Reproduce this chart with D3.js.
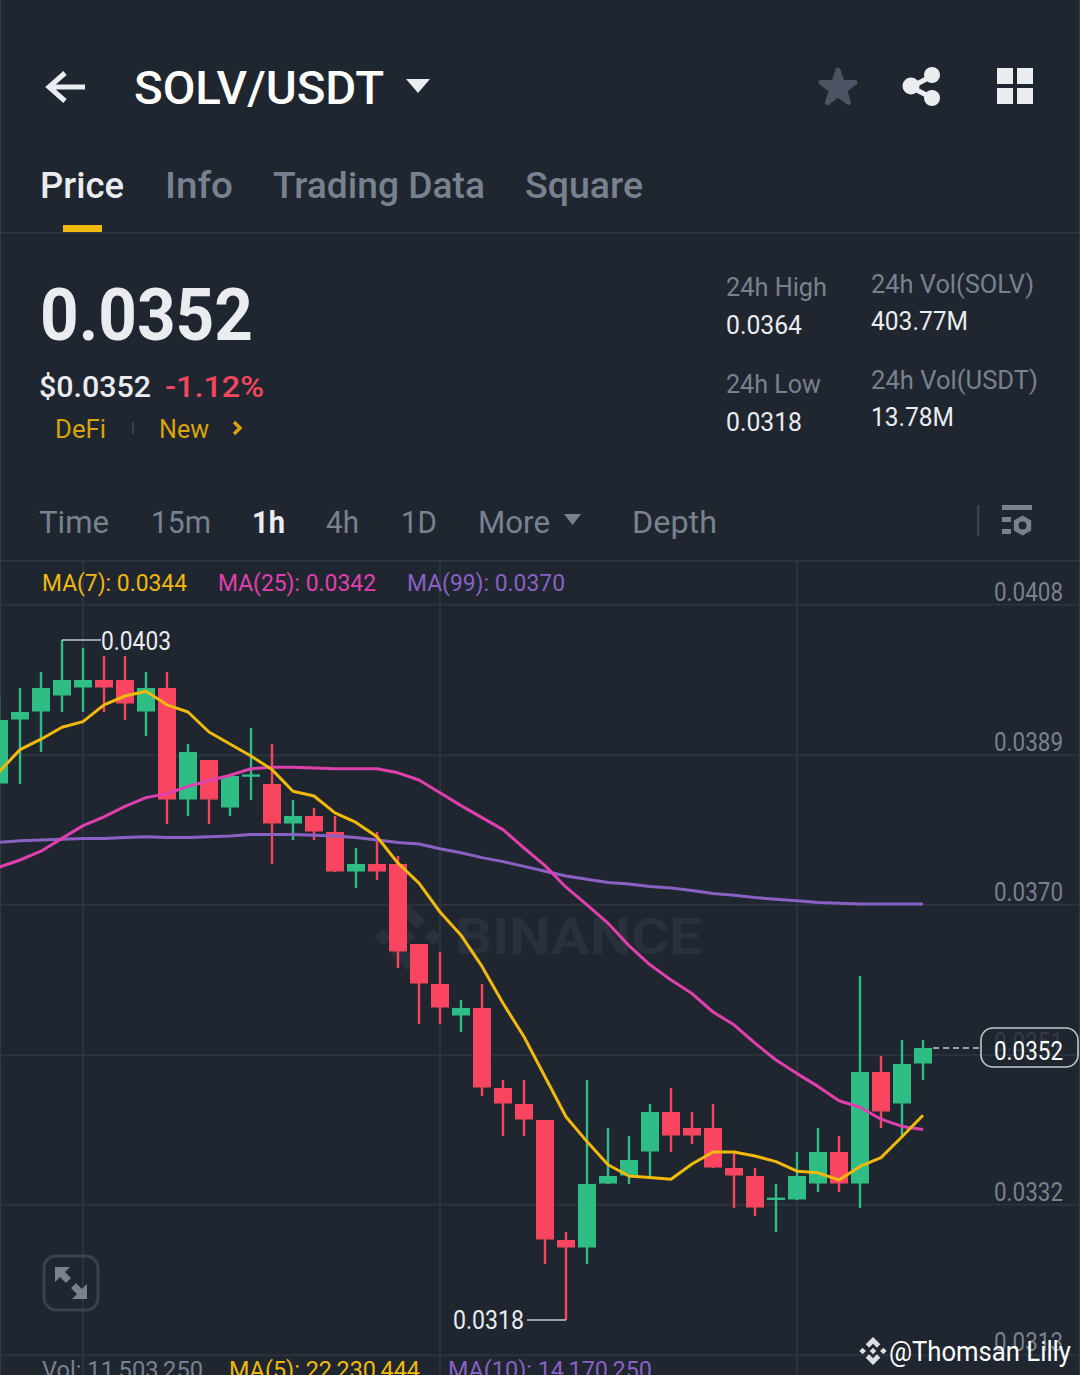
<!DOCTYPE html>
<html><head><meta charset="utf-8">
<script src="https://cdn.jsdelivr.net/npm/d3@7/dist/d3.min.js"></script>
<style>html,body{margin:0;padding:0;background:#1f2630;overflow:hidden}svg{display:block}text{font-family:Roboto,"Noto Sans",sans-serif}</style>
</head><body><svg id="c" width="1080" height="1375"></svg>
<script>
// ---- data ----
const opens  = [.0385,.0393,.0394,.0396,.0397,.0398,.0398,.0394,.0397,.0383,.0388,.0382,.03862,.0385,.0380,.0381,.0379,.0374,.0375,.0375,.0365,.0360,.0356,.0357,.0347,.0345,.0343,.0328,.0327,.0335,.0336,.0339,.0344,.0342,.0342,.0337,.0336,.03333,.0333,.0335,.0339,.0335,.0349,.0345,.0350];
const closes = [.0393,.0394,.0397,.0398,.0398,.0397,.0395,.0397,.0383,.0389,.0383,.0386,.03862,.0380,.0381,.0379,.0374,.0375,.0374,.0364,.0360,.0357,.0357,.0347,.0345,.0343,.0328,.0327,.0335,.0336,.0338,.0344,.0341,.0341,.0337,.0336,.0332,.03333,.0336,.0339,.0335,.0349,.0344,.0350,.0352];
const highs  = [.0396,.0397,.0399,.0403,.0402,.0401,.0401,.0399,.0399,.0390,.0388,.0386,.0392,.0390,.0383,.0382,.0381,.0377,.0379,.0376,.0365,.0364,.0358,.0360,.0348,.0348,.0343,.0329,.0348,.0342,.0341,.0345,.0347,.0344,.0345,.0339,.0337,.0335,.0339,.0342,.0341,.0361,.0351,.0353,.0353];
const lows   = [.0385,.0385,.0389,.0394,.0394,.0394,.0393,.0391,.0380,.0381,.0380,.0381,.0383,.0375,.0378,.0378,.0374,.0372,.0373,.0362,.0355,.0355,.0354,.0346,.0341,.0341,.0325,.0318,.0325,.0335,.0335,.0336,.0339,.0340,.0337,.0332,.0331,.0329,.0333,.0334,.0334,.0332,.0342,.0341,.0348];
const ma7    = [.03865,.03893,.03906,.03921,.03928,.03949,.0396,.03966,.03949,.0394,.03915,.039,.03885,.03868,.03841,.03835,.03814,.03802,.03784,.03751,.03726,.0369,.03661,.03622,.03576,.03534,.03484,.03434,.03403,.03374,.0336,.03358,.03356,.03375,.0339,.0339,.03385,.03378,.03366,.03364,.03355,.03372,.03383,.03409,.03436];
const ma25   = [.03746,.03755,.03766,.03782,.03798,.03809,.03822,.03833,.03838,.03847,.03854,.03861,.03869,.03871,.03871,.0387,.03869,.03869,.03869,.03864,.03855,.03839,.03823,.03808,.03793,.0377,.03748,.03721,.03699,.03676,.03648,.03624,.03605,.03588,.03565,.03549,.03526,.03505,.03488,.03472,.03454,.03446,.03431,.03422,.03418];
const ma99   = [.03777,.03779,.0378,.03781,.03782,.03782,.03783,.03784,.03783,.03783,.03784,.03785,.03787,.03787,.03787,.03786,.03785,.03783,.0378,.03777,.03775,.03769,.03764,.03758,.03753,.03747,.03741,.03735,.03731,.03727,.03725,.03722,.0372,.03717,.03713,.03711,.03708,.03706,.03704,.03702,.03701,.037,.037,.037,.037];
const gridPrices = [.04074,.03886,.03699,.03511,.03324,.03136];
const tickLabels = ["0.0408","0.0389","0.0370","0.0351","0.0332","0.0313"];
const gridTimes = [4,21,38];

const UP="#2EBD85",DOWN="#F9455F",YEL="#F0B90B",PINK="#E040AE",PUR="#8A60C2",GRID="#2c333f",MUTE="#79818f",LIGHT="#eaecef";
const svg=d3.select("#c");

[233,561].forEach(yy=>svg.append("line").attr("x1",0).attr("x2",1080).attr("y1",yy).attr("y2",yy).attr("stroke",GRID).attr("stroke-width",2));
[0.5,1079.5].forEach(xx=>svg.append("line").attr("x1",xx).attr("x2",xx).attr("y1",0).attr("y2",1375).attr("stroke","#343a45").attr("stroke-width",1));

const x=d3.scaleLinear().domain([0,44]).range([-1,923]);
const y=d3.scaleLinear().domain([.0403,.0318]).range([640,1320]);

// horizontal grid + price labels via axis
const ax=svg.append("g").attr("transform","translate(1080,0)")
 .call(d3.axisRight(y).offset(0).tickValues(gridPrices).tickSizeInner(-1080).tickSizeOuter(0).tickFormat((d,i)=>tickLabels[i]));
ax.select(".domain").remove();
ax.selectAll("line").attr("stroke",GRID).attr("stroke-width",2);
ax.selectAll("text").attr("x",-17).attr("dy",0).attr("y",-4).attr("text-anchor","end")
 .attr("font-size",26).attr("fill",MUTE).attr("textLength",69).attr("lengthAdjust","spacingAndGlyphs");
ax.selectAll(".tick").filter((d,i)=>i===3).select("text").attr("fill","#343b47");

// vertical grid
svg.append("g").selectAll("line").data(gridTimes).join("line")
 .attr("x1",d=>x(d)).attr("x2",d=>x(d)).attr("y1",561).attr("y2",1375).attr("stroke",GRID).attr("stroke-width",2);

// exchange mark: centre, two side diamonds, top and bottom chevrons
function logo(cx,cy,r,fill){
 const p=(a,b)=>`${cx+a*r} ${cy+b*r}`;
 const dia=(a,b,h)=>`M${p(a,b-h)}L${p(a+h,b)}L${p(a,b+h)}L${p(a-h,b)}Z`;
 const chev=s=>`M${p(0,-1*s)}L${p(.52,-.48*s)}L${p(.28,-.24*s)}L${p(0,-.52*s)}L${p(-.28,-.24*s)}L${p(-.52,-.48*s)}Z`;
 svg.append("path").attr("d",dia(0,0,.23)+dia(-.74,0,.24)+dia(.74,0,.24)+chev(1)+chev(-1)).attr("fill",fill);
}
logo(408,937,34,"#2a303c");
svg.append("text").attr("x",455).attr("y",954).attr("font-size",50).attr("font-weight",700).attr("fill","#2a303c")
 .attr("textLength",247).attr("lengthAdjust","spacingAndGlyphs").text("BINANCE");

// candles
const idx=d3.range(opens.length);
const isUp=i=>closes[i]>=opens[i];
const g=svg.append("g");
g.selectAll(".w").data(idx).join("line").attr("class","w")
 .attr("x1",i=>x(i)).attr("x2",i=>x(i)).attr("y1",i=>y(highs[i])).attr("y2",i=>y(lows[i]))
 .attr("stroke",i=>isUp(i)?UP:DOWN).attr("stroke-width",2.4);
g.selectAll(".b").data(idx).join("rect").attr("class","b")
 .attr("x",i=>x(i)-9).attr("width",18)
 .attr("y",i=>Math.min(y(opens[i]),y(closes[i])))
 .attr("height",i=>Math.max(2.4,Math.abs(y(opens[i])-y(closes[i]))-0.5))
 .attr("fill",i=>isUp(i)?UP:DOWN);

// moving averages
const ln=d3.line().x((d,i)=>x(i)).y(d=>y(d));
[[ma99,PUR],[ma25,PINK],[ma7,YEL]].forEach(([s,c])=>{
 svg.append("path").attr("d",ln(s)).attr("fill","none").attr("stroke",c).attr("stroke-width",3).attr("stroke-linejoin","round");
});

// text helper
function T(s,xx,yy,w,size,fill,weight){
 return svg.append("text").attr("x",xx-1).attr("y",yy).attr("font-size",size).attr("fill",fill).attr("font-weight",weight||400)
  .attr("textLength",w).attr("lengthAdjust","spacingAndGlyphs").text(s);
}
// high/low markers
const hiI=d3.range(highs.length).reduce((a,b)=>highs[b]>highs[a]?b:a,0);
const loI=d3.range(lows.length).reduce((a,b)=>lows[b]<lows[a]?b:a,0);
svg.append("line").attr("x1",x(hiI)).attr("x2",x(hiI)+39).attr("y1",y(highs[hiI])).attr("y2",y(highs[hiI])).attr("stroke","#c4c7cc").attr("stroke-width",1.6);
T("0.0403",102,650,70,25,LIGHT);
svg.append("line").attr("x1",x(loI)-39).attr("x2",x(loI)).attr("y1",y(lows[loI])).attr("y2",y(lows[loI])).attr("stroke","#c4c7cc").attr("stroke-width",1.6);
T("0.0318",454,1329,71,25,LIGHT);

// current price tag
const last=closes[closes.length-1];
svg.append("line").attr("x1",933).attr("x2",980).attr("y1",y(last)).attr("y2",y(last)).attr("stroke","#c9ccd1").attr("stroke-width",1.6).attr("stroke-dasharray","6 4");
svg.append("rect").attr("x",981).attr("y",1028).attr("width",97).attr("height",39).attr("rx",12).attr("fill","none").attr("stroke","#c4c7cc").attr("stroke-width",1.6);
T("0.0352",995,1060,69,26,"#ffffff");

// header
svg.append("path").attr("d","M85 87H50M65 73L49 87L65 101").attr("fill","none").attr("stroke","#eaecef").attr("stroke-width",5);
T("SOLV/USDT",135,104,250,46,"#ffffff",500);
svg.append("path").attr("d","M406 79h24l-12 14z").attr("fill","#eaecef");
svg.append("path").attr("d",d3.symbol(d3.symbolStar,360)()).attr("transform","translate(838,88)").attr("fill","#4c5362").attr("stroke","#4c5362").attr("stroke-width",5).attr("stroke-linejoin","round");
svg.append("path").attr("d","M932 76L911 87L932 98").attr("fill","none").attr("stroke","#eaecef").attr("stroke-width",5);
[[932,75,8],[911,86,8.5],[932,98,8]].forEach(([a,b,r])=>svg.append("circle").attr("cx",a).attr("cy",b).attr("r",r).attr("fill","#eaecef"));
[[997,68],[1017,68],[997,88],[1017,88]].forEach(([a,b])=>svg.append("rect").attr("x",a).attr("y",b).attr("width",16).attr("height",16).attr("fill","#eaecef"));

// tabs
T("Price",41,198,84,36,LIGHT,500);
T("Info",166,198,68,36,MUTE,500);
T("Trading Data",274,198,212,36,MUTE,500);
T("Square",526,198,118,36,MUTE,500);
svg.append("rect").attr("x",63).attr("y",225).attr("width",39).attr("height",7).attr("fill",YEL);

// price block
T("0.0352",41,340,213,72,LIGHT,700);
T("$0.0352",40,397,112,30,LIGHT,500);
T("-1.12%",166,397,99,30,"#F6465D",500);
T("DeFi",56,438,51,26,"#D9A30B");
svg.append("rect").attr("x",132).attr("y",422).attr("width",2).attr("height",12).attr("fill","#3a414d");
T("New",160,438,50,26,"#D9A30B");
svg.append("path").attr("d","M234 422l6 6-6 6").attr("fill","none").attr("stroke","#D9A30B").attr("stroke-width",3.5);
T("24h High",727,296,101,26,MUTE);
T("0.0364",727,334,76,26,LIGHT);
T("24h Low",727,393,95,26,MUTE);
T("0.0318",727,431,76,26,LIGHT);
T("24h Vol(SOLV)",872,293,163,26,MUTE);
T("403.77M",872,330,97,26,LIGHT);
T("24h Vol(USDT)",872,389,167,26,MUTE);
T("13.78M",872,426,83,26,LIGHT);

// interval row
T("Time",40,533,70,32,MUTE);
T("15m",152,533,60,32,MUTE);
T("1h",253,533,33,32,LIGHT,700);
T("4h",327,533,33,32,MUTE);
T("1D",402,533,36,32,MUTE);
T("More",479,533,72,32,MUTE);
svg.append("path").attr("d","M564 514h17l-8.5 11z").attr("fill",MUTE);
T("Depth",633,533,85,32,MUTE);
svg.append("rect").attr("x",977).attr("y",505).attr("width",2.5).attr("height",31).attr("fill","#3a414d");
// settings glyph
svg.append("path").attr("d","M1002 505h30v5h-30zM1002 517h9v5h-9zM1002 529h9v5h-9z").attr("fill",MUTE);
svg.append("path").attr("d",d3.line().curve(d3.curveLinearClosed)(d3.range(6).map(k=>[1022.5+10*Math.sin(k*Math.PI/3),525.5-10*Math.cos(k*Math.PI/3)]))).attr("fill",MUTE);
svg.append("circle").attr("cx",1022.5).attr("cy",525.5).attr("r",4).attr("fill","#1f2630");

// MA legend
T("MA(7): 0.0344",43,591,145,24,YEL);
T("MA(25): 0.0342",219,591,158,24,PINK);
T("MA(99): 0.0370",408,591,158,24,PUR);

// expand button
svg.append("rect").attr("x",44).attr("y",1256).attr("width",54).attr("height",54).attr("rx",12).attr("fill","none").attr("stroke","#3a414d").attr("stroke-width",3);
svg.append("path").attr("d","M55 1267h15l-5 5 6 6-5 5-6-6-5 5zM87 1299h-15l5-5-6-6 5-5 6 6 5-5z").attr("fill","#79818f");

// volume legend (cut by the frame)
T("Vol: 11,503,250",43,1378,161,24,MUTE);
T("MA(5): 22,230,444",230,1378,191,24,YEL);
T("MA(10): 14,170,250",449,1378,204,24,PUR);

// credit
logo(873,1351,14,"#dcdee1");
T("@Thomsan Lilly",890,1361,182,28,"#ffffff");
</script></body></html>
